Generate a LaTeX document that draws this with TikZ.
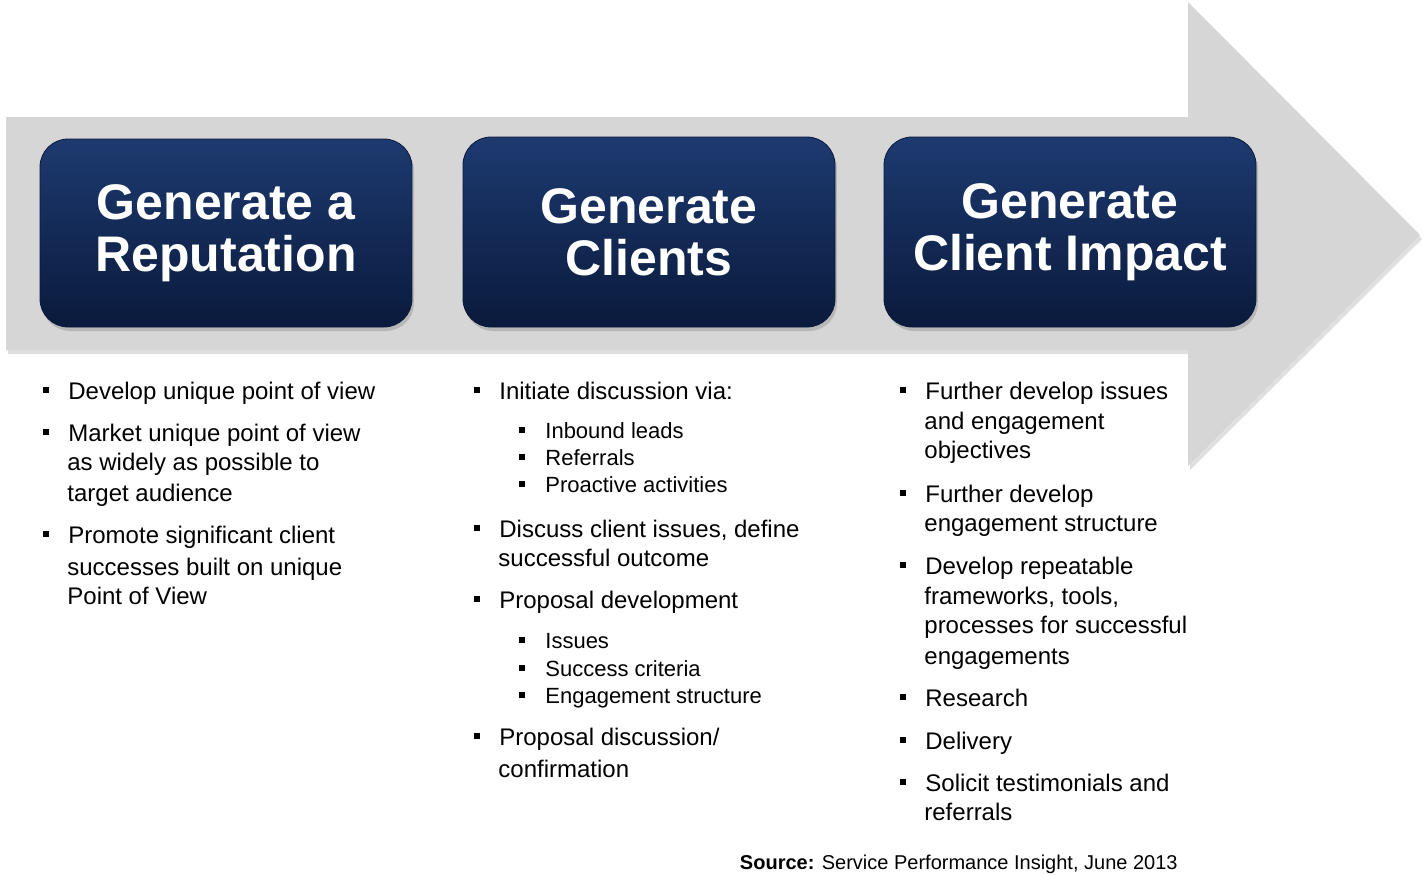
\documentclass[tikz,border=0pt]{standalone}
\usepackage{fontspec}
\setmainfont{Liberation Sans}
\usetikzlibrary{shadows}
\definecolor{navytop}{HTML}{1D3A70}
\definecolor{navybot}{HTML}{0A1A3C}
\definecolor{arrowgray}{HTML}{D6D6D6}
\begin{document}
\begin{tikzpicture}[x=0.5pt,y=-0.5pt,
  stage/.style={rounded corners=14pt,top color=navytop,bottom color=navybot,draw=navybot,drop shadow={shadow xshift=1pt,shadow yshift=-2pt,opacity=0.35}},
  title/.style={text=white,font=\fontsize{25}{26}\selectfont\bfseries,align=center},
  txt/.style={anchor=base west,inner sep=0pt,font=\fontsize{12}{14}\selectfont},
  sub/.style={anchor=base west,inner sep=0pt,font=\fontsize{11}{13}\selectfont},
  blt/.style={fill=black,minimum size=3.2pt,inner sep=0pt}]
\useasboundingbox (0,0) rectangle (1424,874);
\fill[arrowgray,drop shadow={shadow xshift=1pt,shadow yshift=-2pt,opacity=0.25}] (6,117) -- (1188,117) -- (1188,2) -- (1420,235) -- (1188,466) -- (1188,350) -- (6,350) -- cycle;
\node[stage,minimum width=186pt,minimum height=94pt] (b1) at (226,233) {};
\node[stage,minimum width=186pt,minimum height=95pt] (b2) at (649,232) {};
\node[stage,minimum width=186pt,minimum height=95pt] (b3) at (1070,232) {};
\node[title] (t1) at (b1) {Generate a\\Reputation};
\node[title] (t2) at (b2) {Generate\\Clients};
\node[title] (t3) at (b3) {Generate\\Client Impact};
% column 1
\foreach \y in {390,432,534} \node[blt] at (46,\y) {};
\node[txt] (a1) at (68,399) {Develop unique point of view};
\node[txt] (a2) at (68,441) {Market unique point of view};
\node[txt] (a3) at (67,470) {as widely as possible to};
\node[txt] (a4) at (67,501) {target audience};
\node[txt] (a5) at (68,543) {Promote significant client};
\node[txt] (a6) at (67,575) {successes built on unique};
\node[txt] (a7) at (67,604) {Point of View};
% column 2
\foreach \y in {390,528,599,736} \node[blt] at (477,\y) {};
\foreach \y in {430,457,484,640,668,695} \node[blt,minimum size=2.8pt] at (522,\y) {};
\node[txt] (c1) at (499,399) {Initiate discussion via:};
\node[sub] (c2) at (545,438) {Inbound leads};
\node[sub] (c3) at (545,465) {Referrals};
\node[sub] (c4) at (545,492) {Proactive activities};
\node[txt] (c5) at (499,537) {Discuss client issues, define};
\node[txt] (c6) at (498,566) {successful outcome};
\node[txt] (c7) at (499,608) {Proposal development};
\node[sub] (c8) at (545,648) {Issues};
\node[sub] (c9) at (545,676) {Success criteria};
\node[sub] (c10) at (545,703) {Engagement structure};
\node[txt] (c11) at (499,745) {Proposal discussion/};
\node[txt] (c12) at (498,777) {confirmation};
% column 3
\foreach \y in {390,493,565,697,740,782} \node[blt] at (903,\y) {};
\node[txt] (d1) at (925,399) {Further develop issues};
\node[txt] (d2) at (924,429) {and engagement};
\node[txt] (d3) at (924,458) {objectives};
\node[txt] (d4) at (925,502) {Further develop};
\node[txt] (d5) at (924,531) {engagement structure};
\node[txt] (d6) at (925,574) {Develop repeatable};
\node[txt] (d7) at (924,604) {frameworks, tools,};
\node[txt] (d8) at (924,633) {processes for successful};
\node[txt] (d9) at (924,664) {engagements};
\node[txt] (d10) at (925,706) {Research};
\node[txt] (d11) at (925,749) {Delivery};
\node[txt] (d12) at (925,791) {Solicit testimonials and};
\node[txt] (d13) at (924,820) {referrals};
\node[anchor=base east,inner sep=0pt,font=\fontsize{10}{12}\selectfont] (src) at (1178,869) {\textbf{Source:} Service Performance Insight, June 2013};
\end{tikzpicture}
\end{document}
